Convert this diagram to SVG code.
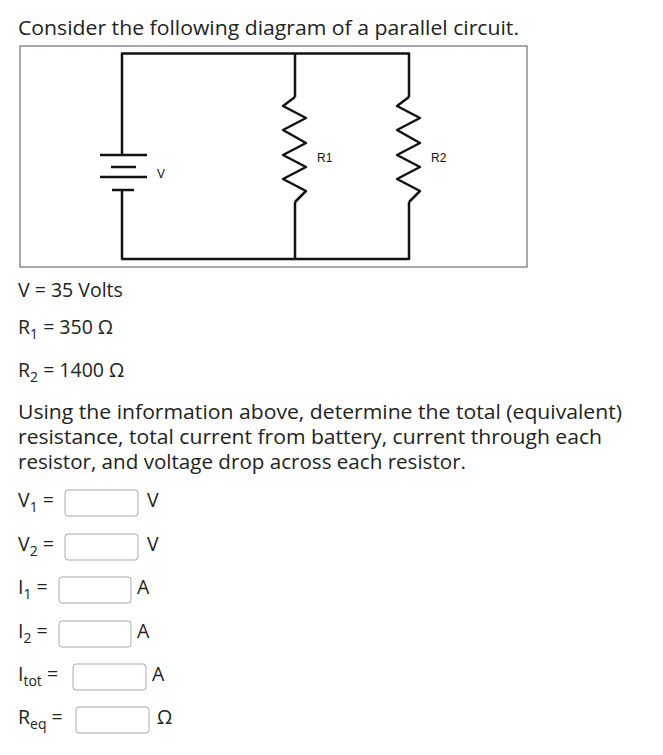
<svg xmlns="http://www.w3.org/2000/svg" width="663" height="755" viewBox="0 0 663 755">
<style>
.t{font-family:"Open Sans",Lato,sans-serif;font-size:19.5px;fill:#222}
.s{font-size:14px}
.w{fill:none;stroke:#111;stroke-width:2.5;stroke-linejoin:round}
.lbl{font-family:"Liberation Sans",Arial,sans-serif;font-size:12px;fill:#111}
.box{fill:#fff;stroke:#aaa;stroke-width:1;rx:3}
</style>
<rect width="663" height="755" fill="#fff"/>
<text class="t" x="18" y="35" textLength="501" lengthAdjust="spacingAndGlyphs">Consider the following diagram of a parallel circuit.</text>
<g id="circuit">
<rect x="20" y="46" width="507" height="221" fill="#fff" stroke="#555" stroke-width="1"/>
<g id="wires">
<path class="w" d="M122 155 V53.5 H409 V97 M295 53.5 V97 M122 190 V259 H409 V202 M295 259 V202"/>
</g>
<g id="battery">
<path class="w" d="M100 155 H147 M111 167 H136 M100 177 H147 M112 190 H134"/>
<text class="lbl" x="157" y="178">V</text>
</g>
<g id="R1">
<path class="w" d="M295 97 L283 106 L306 118 L283 130 L306 143 L283 155 L306 167 L283 179 L306 191 L295 202"/>
<text class="lbl" x="317" y="162">R1</text>
</g>
<g id="R2">
<path class="w" d="M409 97 L397 106 L420 118 L397 130 L420 143 L397 155 L420 167 L397 179 L420 191 L409 202"/>
<text class="lbl" x="431" y="162">R2</text>
</g>
</g>
<text class="t" x="18" y="297">V = 35 Volts</text>
<text class="t" x="18" y="334">R<tspan class="s" dy="5">1</tspan><tspan dy="-5"> = 350 Ω</tspan></text>
<text class="t" x="18" y="377">R<tspan class="s" dy="5">2</tspan><tspan dy="-5"> = 1400 Ω</tspan></text>
<text class="t" x="18" y="419" textLength="604" lengthAdjust="spacingAndGlyphs">Using the information above, determine the total (equivalent)</text>
<text class="t" x="18" y="444" textLength="584" lengthAdjust="spacingAndGlyphs">resistance, total current from battery, current through each</text>
<text class="t" x="18" y="469" textLength="448" lengthAdjust="spacingAndGlyphs">resistor, and voltage drop across each resistor.</text>
<g id="answers">
<text class="t" x="18" y="507">V<tspan class="s" dy="5">1</tspan><tspan dy="-5"> =</tspan></text>
<rect class="box" x="65" y="490" width="73" height="26"/>
<text class="t" x="147" y="507">V</text>
<text class="t" x="18" y="551">V<tspan class="s" dy="5">2</tspan><tspan dy="-5"> =</tspan></text>
<rect class="box" x="65" y="534" width="73" height="26"/>
<text class="t" x="147" y="551">V</text>
<text class="t" x="18" y="594">I<tspan class="s" dy="5">1</tspan><tspan dy="-5"> =</tspan></text>
<rect class="box" x="59" y="577" width="72" height="26"/>
<text class="t" x="137" y="594">A</text>
<text class="t" x="18" y="638">I<tspan class="s" dy="5">2</tspan><tspan dy="-5"> =</tspan></text>
<rect class="box" x="59" y="621" width="72" height="26"/>
<text class="t" x="137" y="638">A</text>
<text class="t" x="18" y="681">I<tspan class="s" dy="5">tot</tspan><tspan dy="-5"> =</tspan></text>
<rect class="box" x="73" y="664" width="73" height="26"/>
<text class="t" x="152" y="681">A</text>
<text class="t" x="18" y="724">R<tspan class="s" dy="5">eq</tspan><tspan dy="-5"> =</tspan></text>
<rect class="box" x="76" y="707" width="73" height="26"/>
<text class="t" x="157" y="724">Ω</text>
</g>
</svg>
